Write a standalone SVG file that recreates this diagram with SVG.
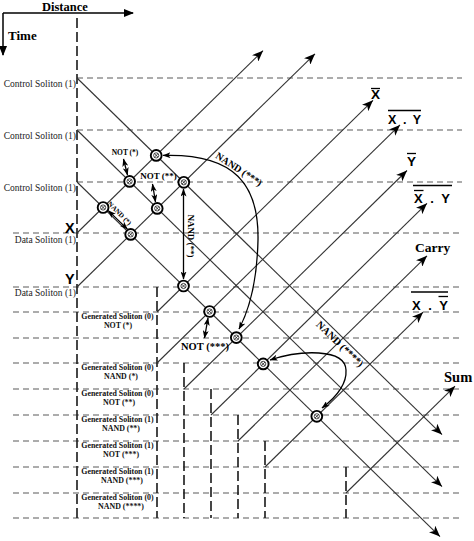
<svg xmlns="http://www.w3.org/2000/svg" width="474" height="541" viewBox="0 0 474 541">
<style>
.h{stroke:#5a5a5a;stroke-width:1.1;stroke-dasharray:6 4;fill:none}
.v{stroke:#1a1a1a;stroke-width:1.6;stroke-dasharray:10 4;fill:none}
.d{stroke:#333;stroke-width:1.1;fill:none}
.a{marker-end:url(#big)}
.ring{fill:#fff;stroke:#000;stroke-width:1.9}
.in{fill:none;stroke:#000;stroke-width:0.7}
.lbl{font-family:"Liberation Serif","Times New Roman",serif;font-size:9.5px;fill:#222;text-anchor:end}
.gen{font-family:"Liberation Serif","Times New Roman",serif;font-weight:bold;font-size:7.9px;text-anchor:middle;fill:#111}
.b{font-family:"Liberation Serif","Times New Roman",serif;font-weight:bold;fill:#000}
.s{font-family:"Liberation Sans",Arial,sans-serif;font-weight:bold;fill:#000}
.ov{stroke:#000;stroke-width:1.3}
.ar{stroke:#000;stroke-width:1.3;fill:none;marker-start:url(#sm);marker-end:url(#sm)}
.axis{stroke:#000;stroke-width:1.5;fill:none;marker-end:url(#ax)}
</style>
<defs>
<marker id="big" markerUnits="userSpaceOnUse" markerWidth="12" markerHeight="9" refX="11" refY="4.5" orient="auto" viewBox="0 0 12 9"><path d="M0,0 L11,4.5 L0,9 L3,4.5 Z" fill="#000"/></marker>
<marker id="sm" markerUnits="userSpaceOnUse" markerWidth="8" markerHeight="6" refX="7.5" refY="3" orient="auto-start-reverse" viewBox="0 0 8 6"><path d="M0,0 L8,3 L0,6 L2,3 Z" fill="#000"/></marker>
<marker id="ax" markerUnits="userSpaceOnUse" markerWidth="10" markerHeight="8" refX="9" refY="4" orient="auto" viewBox="0 0 10 8"><path d="M0,0 L10,4 L0,8 Z" fill="#000"/></marker>
<g id="nd"><circle r="5.4" class="ring"/><circle r="2.6" class="in"/><path d="M-1.8,-1.8 L1.8,1.8 M-1.8,1.8 L1.8,-1.8" class="in"/></g>
</defs>
<rect width="474" height="541" fill="#fff"/>

<g id="axes">
<path class="axis" d="M3,13 L133,13"/>
<path class="axis" d="M3,13 L3,55"/>
<text class="b" x="42" y="10.5" font-size="12.5">Distance</text>
<text class="b" x="8" y="40" font-size="13">Time</text>
</g>

<g id="grid">
<path class="h" d="M77,78 H462 M77,130 H462 M77,182 H462"/>
<path class="h" d="M13,233 H462 M13,287 H462"/>
<path class="h" d="M13,312 H462 M13,338 H462 M13,363 H462 M13,389 H462 M13,415 H462 M13,441 H462 M13,467 H462 M13,493 H462 M13,518 H462"/>
<path class="v" d="M77,18 V518"/>
<path class="v" d="M157,287 V518 M184,363 V518 M211,389 V518 M238,415 V518 M265,441 V518 M346,467 V518"/>
</g>

<g id="row-labels">
<text class="lbl" x="76" y="87">Control Soliton (1)</text>
<text class="lbl" x="76" y="139">Control Soliton (1)</text>
<text class="lbl" x="76" y="191">Control Soliton (1)</text>
<text class="lbl" x="76" y="243">Data Soliton (1)</text>
<text class="lbl" x="76" y="296">Data Soliton (1)</text>
<text class="s" x="65" y="233" font-size="14.5">X</text>
<text class="s" x="65" y="284" font-size="14.5">Y</text>
<text class="gen" x="117.5" y="319">Generated Soliton (0)</text>
<text class="gen" x="118" y="328">NOT (*)</text>
<text class="gen" x="117.5" y="370">Generated Soliton (0)</text>
<text class="gen" x="121" y="379">NAND (*)</text>
<text class="gen" x="117.5" y="396">Generated Soliton (0)</text>
<text class="gen" x="119" y="405">NOT (**)</text>
<text class="gen" x="117.5" y="422">Generated Soliton (1)</text>
<text class="gen" x="121" y="431">NAND (**)</text>
<text class="gen" x="117.5" y="448">Generated Soliton (1)</text>
<text class="gen" x="121" y="457">NOT (***)</text>
<text class="gen" x="117.5" y="474">Generated Soliton (1)</text>
<text class="gen" x="122" y="483">NAND (***)</text>
<text class="gen" x="117.5" y="500">Generated Soliton (0)</text>
<text class="gen" x="121" y="509">NAND (****)</text>
</g>

<g id="connectors">
<path class="d a" d="M77,78 L442,434.6"/>
<path class="d a" d="M77,130 L442,486.6"/>
<path class="d a" d="M77,182 L440,536.6"/>
<path class="d a" d="M77,233 L263,50.7"/>
<path class="d a" d="M77,287 L315,53.8"/>
<path class="d a" d="M157,312 L373,100.3"/>
<path class="d a" d="M157,363 L400,124.9"/>
<path class="d a" d="M184,389 L407,170.5"/>
<path class="d a" d="M211,415 L427,203.3"/>
<path class="d a" d="M238,441 L427,255.8"/>
<path class="d a" d="M265,467 L423,312.2"/>
<path class="d a" d="M346,493 L455,386.2"/>
<path class="ar" d="M108.3,210.6 L127.4,229.1"/>
<path class="ar" d="M183.5,189 L183.5,279"/>
<path class="ar" d="M127.5,175 L123.5,159"/>
<path class="ar" d="M155.5,202 L152.5,184"/>
<path class="ar" d="M208,318 L204.5,338"/>
<path class="ar" d="M163,155.4 C235,153 259,185 258,240 C257,285 248,312 239,329"/>
<path class="ar" d="M270,360 C300,350 345,348 346,370 C347,385 335,398 322,408"/>
</g>

<g id="connector-labels">
<text class="b" font-size="7" text-anchor="middle" transform="translate(118,215) rotate(45)">NAND (*)</text>
<text class="b" font-size="9" text-anchor="middle" transform="translate(188,236) rotate(90)">NAND (**)</text>
<text class="b" font-size="10" text-anchor="middle" transform="translate(237,172) rotate(33)">NAND (***)</text>
<text class="b" font-size="10.5" text-anchor="middle" transform="translate(337.5,346.5) rotate(44)">NAND (****)</text>
<text class="b" font-size="7.5" text-anchor="middle" x="125" y="155">NOT (*)</text>
<text class="b" font-size="9" text-anchor="middle" x="158.5" y="179">NOT (**)</text>
<text class="b" font-size="10.5" text-anchor="middle" x="205" y="350">NOT (***)</text>
</g>

<g id="outputs">
<text class="s" x="375.5" y="99" font-size="13.5" text-anchor="middle">X</text>
<line class="ov" x1="371" y1="88.5" x2="380" y2="88.5"/>
<text class="s" x="388" y="123.5" font-size="12.5" textLength="33" lengthAdjust="spacing">X . Y</text>
<line class="ov" x1="388" y1="110.5" x2="421" y2="110.5"/>
<text class="s" x="411.5" y="166" font-size="13.5" text-anchor="middle">Y</text>
<line class="ov" x1="407" y1="153.5" x2="416" y2="153.5"/>
<text class="s" x="414" y="203" font-size="13" textLength="36" lengthAdjust="spacing">X . Y</text>
<line class="ov" x1="413" y1="185.5" x2="452" y2="185.5"/>
<line class="ov" x1="414" y1="190.5" x2="423.5" y2="190.5"/>
<text class="b" x="415" y="252" font-size="13.5">Carry</text>
<text class="s" x="412" y="310" font-size="13" textLength="36" lengthAdjust="spacing">X . Y</text>
<line class="ov" x1="411" y1="292" x2="448" y2="292"/>
<line class="ov" x1="438.5" y1="296.5" x2="448" y2="296.5"/>
<text class="b" x="444" y="382" font-size="14.5">Sum</text>
</g>

<g id="nodes">
<g id="node-A"><use href="#nd" x="156.2" y="155.4"/></g>
<g id="node-B"><use href="#nd" x="129.6" y="181.4"/></g>
<g id="node-C"><use href="#nd" x="183.8" y="182.3"/></g>
<g id="node-D"><use href="#nd" x="103.1" y="207.5"/></g>
<g id="node-E"><use href="#nd" x="157.2" y="208.4"/></g>
<g id="node-F"><use href="#nd" x="130.7" y="234.4"/></g>
<g id="node-G"><use href="#nd" x="183.5" y="286"/></g>
<g id="node-H"><use href="#nd" x="209.6" y="311.5"/></g>
<g id="node-I"><use href="#nd" x="236.3" y="337.6"/></g>
<g id="node-J"><use href="#nd" x="263.2" y="363.9"/></g>
<g id="node-K"><use href="#nd" x="316.8" y="416.3"/></g>
</g>
</svg>
